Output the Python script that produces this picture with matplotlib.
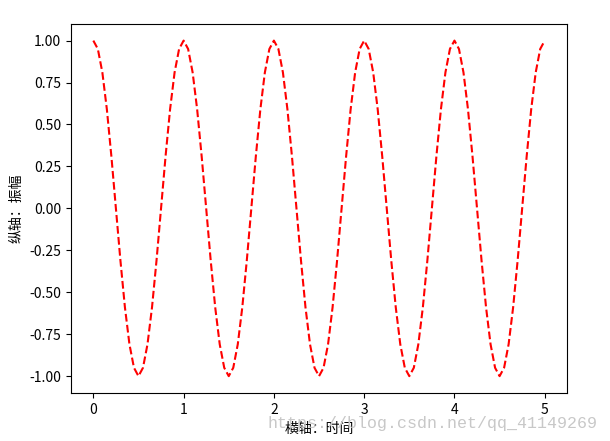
import matplotlib.pyplot as plt

# 时间轴 (step 0.05) and amplitude readings
t = [round(0.05 * i, 2) for i in range(101)]
amp = [
    1.00, 0.95, 0.81, 0.59, 0.31, 0.00, -0.31, -0.59, -0.81, -0.95,
    -1.00, -0.95, -0.81, -0.59, -0.31, 0.00, 0.31, 0.59, 0.81, 0.95,
    1.00, 0.95, 0.81, 0.59, 0.31, 0.00, -0.31, -0.59, -0.81, -0.95,
    -1.00, -0.95, -0.81, -0.59, -0.31, 0.00, 0.31, 0.59, 0.81, 0.95,
    1.00, 0.95, 0.81, 0.59, 0.31, 0.00, -0.31, -0.59, -0.81, -0.95,
    -1.00, -0.95, -0.81, -0.59, -0.31, 0.00, 0.31, 0.59, 0.81, 0.95,
    1.00, 0.95, 0.81, 0.59, 0.31, 0.00, -0.31, -0.59, -0.81, -0.95,
    -1.00, -0.95, -0.81, -0.59, -0.31, 0.00, 0.31, 0.59, 0.81, 0.95,
    1.00, 0.95, 0.81, 0.59, 0.31, 0.00, -0.31, -0.59, -0.81, -0.95,
    -1.00, -0.95, -0.81, -0.59, -0.31, 0.00, 0.31, 0.59, 0.81, 0.95,
    1.00,
]
xlabel = '横轴：时间'
ylabel = '纵轴：振幅'
watermark = 'https://blog.csdn.net/qq_41149269'

plt.rcParams['font.family'] = ['Noto Sans CJK SC', 'DejaVu Sans']
plt.rcParams['axes.unicode_minus'] = False

fig = plt.figure(figsize=(6.1, 4.41), dpi=100)
ax = fig.add_axes([0.116, 0.109, 0.814, 0.837])
ax.plot(t, amp, 'r--', linewidth=1.5)
ax.set_xlabel(xlabel, fontsize=10)
ax.set_ylabel(ylabel, fontsize=10)
ax.set_yticks([1.0, 0.75, 0.5, 0.25, 0.0, -0.25, -0.5, -0.75, -1.0])

fig.text(0.98, 0.03, watermark, ha='right', va='baseline',
         family='Liberation Mono', fontsize=12, color='#c8c8c8')

plt.savefig('out.png', dpi=100)
